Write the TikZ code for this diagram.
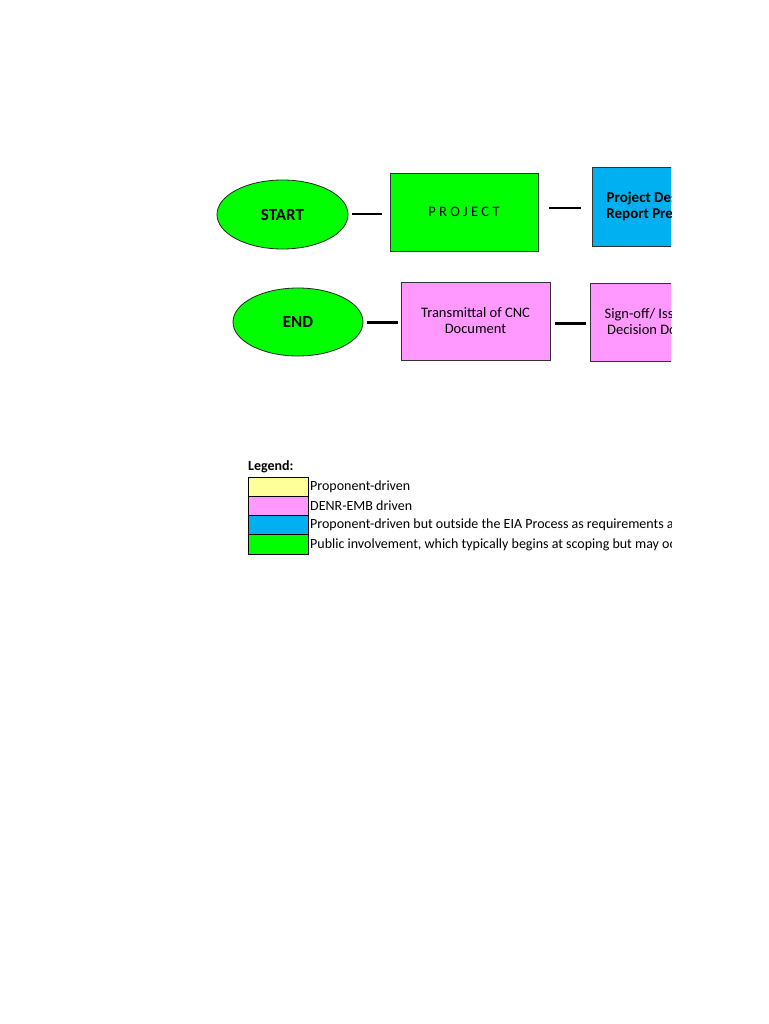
\documentclass[tikz,border=0pt]{standalone}
\usepackage{fontspec}
\setmainfont{Carlito}
\usepackage{xcolor}
\usepackage{tikz}
\usetikzlibrary{shapes.geometric,positioning}
\definecolor{pubgreen}{HTML}{00FF00}
\definecolor{denrpink}{HTML}{FF99FF}
\definecolor{outblue}{HTML}{00B0F0}
\definecolor{propyellow}{HTML}{FFFF99}
\tikzset{
  term/.style={ellipse, draw=black!85, line width=0.8pt, fill=pubgreen, inner sep=0pt,
               outer sep=0pt, minimum width=131pt, minimum height=69pt,
               font=\fontsize{17}{20}\selectfont\bfseries},
  procbox/.style={rectangle, draw=black!80, line width=0.8pt, inner sep=2pt, outer sep=0pt,
              minimum width=148pt, minimum height=78pt, align=center,
              font=\fontsize{14.5}{16}\selectfont},
  link/.style={draw=black, line width=2pt},
  swatch/.style={rectangle, draw=black, line width=0.7pt, outer sep=0pt,
                 minimum width=60pt, minimum height=19.25pt, inner sep=0pt},
  legtext/.style={anchor=west, inner sep=2pt, font=\fontsize{14}{15}\selectfont}
}
\begin{document}
\begin{tikzpicture}[x=1pt,y=-1pt]
  \useasboundingbox[fill=white] (0,0) rectangle (768,1024);
  \begin{scope}
  \clip (0,0) rectangle (671,1024);
  % top row
  \node[term] (start) at (282.5,214.5) {START};
  \node[procbox, fill=pubgreen, right=42pt of start, yshift=2.5pt] (proj) {P R O J E C T};
  \node[procbox, fill=outblue, right=54pt of proj, yshift=5.5pt, minimum height=79pt,
        font=\fontsize{15}{16}\selectfont\bfseries] (pdr) {Project Description\\Report Preparation};
  % bottom row
  \node[term, minimum width=130pt, minimum height=68pt] (endn) at (298,322) {END};
  \node[procbox, fill=denrpink, right=38pt of endn, yshift=1pt, minimum width=149pt] (cnc)
        {Transmittal of CNC\\Document};
  \node[procbox, fill=denrpink, right=40pt of cnc, yshift=-1pt, minimum width=149pt] (sign)
        {Sign-off/ Issuance of\\Decision Document};
  \draw[link, shorten <=4pt, shorten >=8pt] (start.east) -- (start.east -| proj.west);
  \draw[link, shorten <=11pt, shorten >=11pt] ([yshift=4pt]proj.east) -- ([yshift=4pt]proj.east -| pdr.west);
  \draw[link, line width=3pt, shorten <=4pt, shorten >=3pt] (endn.east) -- (endn.east -| cnc.west);
  \draw[link, line width=3pt, shorten <=5pt, shorten >=4pt] ([yshift=-2pt]cnc.east) -- ([yshift=-2pt]cnc.east -| sign.west);
  % legend
  \node[anchor=west, inner sep=0pt, font=\fontsize{14}{15}\selectfont\bfseries] (legtitle) at (248,467) {Legend:};
  \node[swatch, fill=propyellow] (sw1) at (278,486.6) {};
  \node[swatch, fill=denrpink, below=0pt of sw1] (sw2) {};
  \node[swatch, fill=outblue, below=0pt of sw2] (sw3) {};
  \node[swatch, fill=pubgreen, below=0pt of sw3] (sw4) {};
  \node[legtext] (lt1) at (sw1.east) {Proponent-driven};
  \node[legtext] (lt2) at (sw2.east) {DENR-EMB driven};
  \node[legtext] (lt3) at (sw3.east) {Proponent-driven but outside the EIA Process as requirements are met};
  \node[legtext] (lt4) at (sw4.east) {Public involvement, which typically begins at scoping but may occur};
  \end{scope}
\end{tikzpicture}
\end{document}
